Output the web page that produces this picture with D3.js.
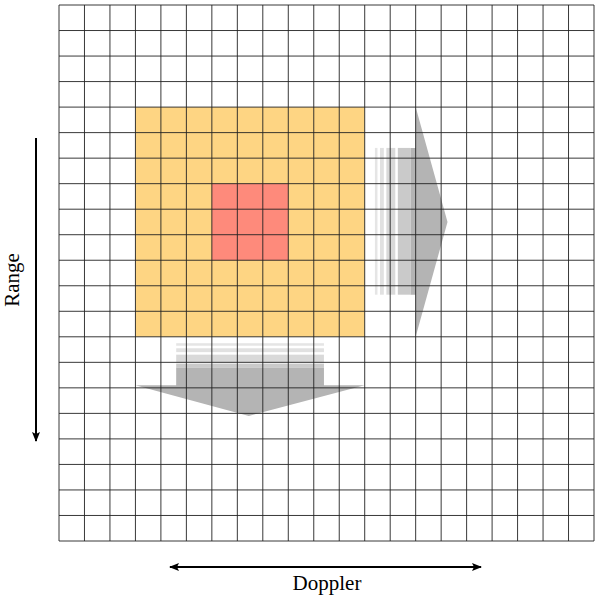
<!DOCTYPE html><html><head><meta charset="utf-8"><script src="https://cdn.jsdelivr.net/npm/d3@7"></script>
<style>body{margin:0;background:#fff}</style></head><body><svg id="c" width="600" height="597"></svg><script>
const nCols = 21, nRows = 21;
const cellIdx = d3.range(nCols + 1);
const outerBlock = {c0: 3, c1: 12, r0: 4, r1: 13};
const innerBlock = {c0: 6, c1: 9, r0: 7, r1: 10};
const svg = d3.select("#c");
const x = d3.scaleLinear().domain([0, nCols]).range([59, 594]);
const y = d3.scaleLinear().domain([0, nRows]).range([5, 541]);
function rect(b, col){svg.append("rect").attr("x",x(b.c0)).attr("y",y(b.r0)).attr("width",x(b.c1)-x(b.c0)).attr("height",y(b.r1)-y(b.r0)).attr("fill",col);}
rect(outerBlock,"#fed583"); rect(innerBlock,"#fe8a7b");
const g = "#b4b4b4";
// right arrow (Doppler compression)
svg.append("path").attr("fill",g).attr("d",`M${x(13.8)},${y(5.6)} H${x(14)} V${y(4)} L${x(15.25)},${y(8.5)} L${x(14)},${y(13)} V${y(11.35)} H${x(13.8)} Z`);
[[12.4,12.5,0.35],[12.6,12.75,0.4],[12.85,13.2,0.5],[13.3,13.8,0.7]].forEach(s=>svg.append("rect").attr("x",x(s[0])).attr("y",y(5.6)).attr("width",x(s[1])-x(s[0])).attr("height",y(11.35)-y(5.6)).attr("fill",g).attr("opacity",s[2]));
// down arrow
svg.append("path").attr("fill",g).attr("d",`M${x(4.6)},${y(14.2)} V${y(14.9)} H${x(3)} L${x(7.45)},${y(16.1)} L${x(12)},${y(14.9)} H${x(10.4)} V${y(14.2)} Z`);
[[13.25,13.35,0.35],[13.45,13.6,0.4],[13.7,14.0,0.5],[14.05,14.2,0.7]].forEach(s=>svg.append("rect").attr("x",x(4.6)).attr("y",y(s[0])).attr("width",x(10.4)-x(4.6)).attr("height",y(s[1])-y(s[0])).attr("fill",g).attr("opacity",s[2]));
// grid
svg.selectAll(".v").data(cellIdx).enter().append("line").attr("x1",d=>x(d)).attr("x2",d=>x(d)).attr("y1",y(0)).attr("y2",y(nRows)).attr("stroke","#222").attr("stroke-width",0.9);
svg.selectAll(".h").data(d3.range(nRows+1)).enter().append("line").attr("y1",d=>y(d)).attr("y2",d=>y(d)).attr("x1",x(0)).attr("x2",x(nCols)).attr("stroke","#222").attr("stroke-width",0.9);
// axis arrows
const defs=svg.append("defs");
defs.append("marker").attr("id","ah").attr("viewBox","0 0 10 10").attr("refX",9).attr("refY",5).attr("markerWidth",5).attr("markerHeight",5).attr("orient","auto-start-reverse").append("path").attr("d","M0,1 L10,5 L0,9 L2,5 Z").attr("fill","#000");
svg.append("line").attr("x1",36).attr("y1",138).attr("x2",36).attr("y2",441).attr("stroke","#000").attr("stroke-width",2).attr("marker-end","url(#ah)");
svg.append("line").attr("x1",170).attr("y1",567).attr("x2",481).attr("y2",567).attr("stroke","#000").attr("stroke-width",2).attr("marker-end","url(#ah)").attr("marker-start","url(#ah)");
svg.append("text").attr("transform","translate(19,280) rotate(-90)").attr("text-anchor","middle").attr("font-family","Liberation Serif").attr("font-size",21).text("Range");
svg.append("text").attr("x",327).attr("y",590).attr("text-anchor","middle").attr("font-family","Liberation Serif").attr("font-size",21).text("Doppler");
</script></body></html>
